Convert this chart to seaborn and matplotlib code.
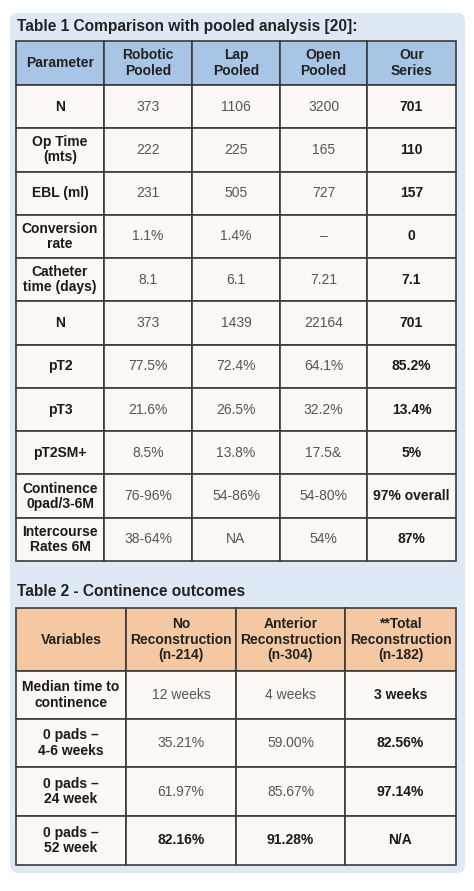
import seaborn as sns
import matplotlib.pyplot as plt
from matplotlib.patches import Rectangle, FancyBboxPatch

sns.set_style("white")
plt.rcParams['font.family'] = ['Liberation Sans', 'DejaVu Sans']

# Table 1 data
t1_title = "Table 1 Comparison with pooled analysis [20]:"
t1_header = ["Parameter", "Robotic\nPooled", "Lap\nPooled", "Open\nPooled", "Our\nSeries"]
t1_params = ["N", "Op Time\n(mts)", "EBL (ml)", "Conversion\nrate", "Catheter\ntime (days)",
             "N", "pT2", "pT3", "pT2SM+", "Continence\n0pad/3-6M", "Intercourse\nRates 6M"]
t1_robotic = ["373", "222", "231", "1.1%", "8.1", "373", "77.5%", "21.6%", "8.5%", "76-96%", "38-64%"]
t1_lap = ["1106", "225", "505", "1.4%", "6.1", "1439", "72.4%", "26.5%", "13.8%", "54-86%", "NA"]
t1_open = ["3200", "165", "727", "–", "7.21", "22164", "64.1%", "32.2%", "17.5&", "54-80%", "54%"]
t1_ours = ["701", "110", "157", "0", "7.1", "701", "85.2%", "13.4%", "5%", "97% overall", "87%"]

# Table 2 data
t2_title = "Table 2 - Continence outcomes"
t2_header = ["Variables", "No\nReconstruction\n(n-214)", "Anterior\nReconstruction\n(n-304)",
             "**Total\nReconstruction\n(n-182)"]
t2_vars = ["Median time to\ncontinence", "0 pads –\n4-6 weeks", "0 pads –\n24 week", "0 pads –\n52 week"]
t2_none = ["12 weeks", "35.21%", "61.97%", "82.16%"]
t2_ant = ["4 weeks", "59.00%", "85.67%", "91.28%"]
t2_total = ["3 weeks", "82.56%", "97.14%", "N/A"]

fig = plt.figure(figsize=(4.74, 8.91), dpi=100)
ax = fig.add_axes([0, 0, 1, 1])
ax.set_xlim(0, 474)
ax.set_ylim(891, 0)
ax.axis('off')

ax.add_patch(FancyBboxPatch((10, 13), 455, 860, boxstyle="round,pad=0,rounding_size=8",
                            fc="#dfe9f5", ec="none"))

cell_bg = "#fbf8f6"
line = "#3a3a3a"
fs = 10


def draw_table(xs, ys, header, columns, head_bg, bold_cols, bold_cells=()):
    # header
    for j in range(len(xs) - 1):
        ax.add_patch(Rectangle((xs[j], ys[0]), xs[j + 1] - xs[j], ys[1] - ys[0],
                               fc=head_bg, ec=line, lw=1.2))
        ax.text((xs[j] + xs[j + 1]) / 2, (ys[0] + ys[1]) / 2, header[j], ha='center', va='center',
                fontsize=fs, fontweight='bold', color="#222222", linespacing=1.1)
    for i in range(len(ys) - 2):
        for j, col in enumerate(columns):
            y0, y1 = ys[i + 1], ys[i + 2]
            ax.add_patch(Rectangle((xs[j], y0), xs[j + 1] - xs[j], y1 - y0,
                                   fc=cell_bg, ec=line, lw=1.2))
            bold = j in bold_cols or (i, j) in bold_cells
            ax.text((xs[j] + xs[j + 1]) / 2, (y0 + y1) / 2, col[i], ha='center', va='center',
                    fontsize=fs, fontweight='bold' if bold else 'normal',
                    color="#1a1a1a" if bold else "#555555", linespacing=1.1)


ax.text(17, 27, t1_title, ha='left', va='center', fontsize=11.2, fontweight='bold', color="#222222")
xs1 = [16, 104, 192, 280, 367, 456]
ys1 = [41, 85] + [85 + 43.27 * (k + 1) for k in range(11)]
draw_table(xs1, ys1, t1_header, [t1_params, t1_robotic, t1_lap, t1_open, t1_ours],
           "#a9c5e6", bold_cols=(0, 4))

ax.text(17, 592, t2_title, ha='left', va='center', fontsize=11.2, fontweight='bold', color="#222222")
xs2 = [16, 126, 236, 345, 456]
ys2 = [608, 671, 719, 767, 816, 865]
draw_table(xs2, ys2, t2_header, [t2_vars, t2_none, t2_ant, t2_total],
           "#f4c8a2", bold_cols=(0, 3), bold_cells=((3, 1), (3, 2)))

fig.savefig("out.png", dpi=100)
